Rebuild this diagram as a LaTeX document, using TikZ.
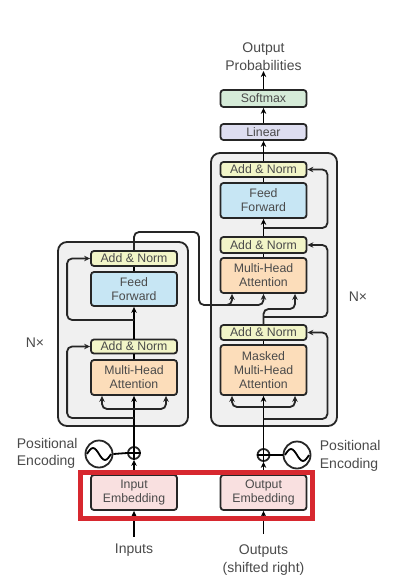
\documentclass[tikz,border=0pt]{standalone}
\usepackage{fontspec}
\setmainfont{Liberation Sans}
\usepackage{tikz}
\usetikzlibrary{arrows, arrows.meta}
\definecolor{normfill}{HTML}{F2F5C8}
\definecolor{fffill}{HTML}{C7E6F4}
\definecolor{attfill}{HTML}{FCDDBA}
\definecolor{embfill}{HTML}{F9E0E0}
\definecolor{smfill}{HTML}{D5EBD8}
\definecolor{linfill}{HTML}{DEDEF0}
\definecolor{stackfill}{HTML}{F0F0F0}
\definecolor{inktext}{HTML}{4A4A4A}
\definecolor{hlred}{HTML}{D7282F}

\begin{document}
\begin{tikzpicture}[x=1pt, y=-1pt, line width=1.8pt, >={Stealth[length=6pt,width=5.5pt]}]
\tikzstyle{block}=[draw=black!85, rounded corners=3pt, minimum width=86pt, inner sep=0pt, align=center, text=inktext, font=\fontsize{12.3}{14}\selectfont]
\tikzstyle{outtext}=[text=inktext, font=\fontsize{14}{17.5}\selectfont, align=center, inner sep=0pt]
\tikzstyle{stack}=[draw=black!85, fill=stackfill, rounded corners=9pt, inner sep=0pt]
\tikzstyle{addcirc}=[draw=black!85, fill=white, circle, minimum size=12pt, inner sep=0pt]
\tikzstyle{wave}=[draw=black!85, fill=white, circle, minimum size=27pt, inner sep=0pt]
\tikzstyle{wire}=[draw=black!85, rounded corners=5pt]
\useasboundingbox (0,0) rectangle (408,585);

% encoder and decoder stacks
\node[stack, minimum width=130pt, minimum height=184pt] (encstack) at (123,334) {};
\node[stack, minimum width=126pt, minimum height=273pt] (decstack) at (274,289.5) {};

% encoder blocks
\node[block, fill=normfill, minimum height=15pt] (encan2) at (134,258.5) {Add \& Norm};
\node[block, fill=fffill, minimum height=34pt] (encff) at (134,289) {Feed\\Forward};
\node[block, fill=normfill, minimum height=14pt] (encan1) at (134,346.5) {Add \& Norm};
\node[block, fill=attfill, minimum height=35pt] (encmha) at (134,377.5) {Multi-Head\\Attention};
\node[block, fill=embfill, minimum height=35pt] (inemb) at (134,492.5) {Input\\Embedding};

% decoder blocks
\node[block, fill=smfill, minimum height=17pt] (softmax) at (263.5,98.5) {Softmax};
\node[block, fill=linfill, minimum height=16pt] (linear) at (263.5,132) {Linear};
\node[block, fill=normfill, minimum height=15pt] (decan3) at (263.5,169.5) {Add \& Norm};
\node[block, fill=fffill, minimum height=35pt] (decff) at (263.5,200.5) {Feed\\Forward};
\node[block, fill=normfill, minimum height=16pt] (decan2) at (263.5,245) {Add \& Norm};
\node[block, fill=attfill, minimum height=35pt] (decmha) at (263.5,275.5) {Multi-Head\\Attention};
\node[block, fill=normfill, minimum height=15pt] (decan1) at (263.5,332.5) {Add \& Norm};
\node[block, fill=attfill, minimum height=50pt] (decmmha) at (263.5,370) {Masked\\Multi-Head\\Attention};
\node[block, fill=embfill, minimum height=35pt] (outemb) at (263.5,492.5) {Output\\Embedding};

% positional encoding
\node[addcirc] (encplus) at (134,453) {};
\node[wave] (encpe) at (99,454) {};
\node[addcirc] (decplus) at (263.5,455) {};
\node[wave] (decpe) at (297,455) {};
\draw[line width=1.3pt] (encplus.north) -- (encplus.south) (encplus.west) -- (encplus.east);
\draw[line width=1.3pt] (decplus.north) -- (decplus.south) (decplus.west) -- (decplus.east);
\draw (encpe.center) ++(-12,0) sin ++(6,-6) cos ++(6,6) sin ++(6,6) cos ++(6,-6);
\draw (decpe.center) ++(-12,0) sin ++(6,-6) cos ++(6,6) sin ++(6,6) cos ++(6,-6);

% texts
\node[outtext] (outprob) at (263.5,56.5) {Output\\Probabilities};
\node[outtext] (inputs) at (134,550) {Inputs};
\node[outtext] (outputs) at (263.5,560) {Outputs\\(shifted right)};
\node[outtext, align=left, anchor=west] (encpelab) at (16,453.5) {Positional\\Encoding};
\node[outtext, align=left, anchor=west] (decpelab) at (319,456) {Positional\\Encoding};
\node[outtext] (encn) at (35,343) {N×};
\node[outtext] (decn) at (358,297) {N×};

% branch points
\coordinate (encfork) at (134,409);
\coordinate (encres1) at (134,418);
\coordinate (encres2) at (134,320);
\coordinate (encturn) at (199,232);
\coordinate (crossin) at (199,305);
\coordinate (crossfork) at (220,305);
\coordinate (decfork) at (263.5,407);
\coordinate (decres1) at (263.5,419);
\coordinate (qturn) at (263.5,309);
\coordinate (decres2) at (263.5,317);
\coordinate (decres3) at (263.5,228);

% encoder wires
\draw[->, shorten <=6pt] (inputs.north) -- (inemb.south);
\draw[->] (inemb.north) -- (encplus.south);
\draw (encpe.east) -- (encplus.west);
\draw[->] (encplus.north) -- (encmha.south);
\draw[->, wire] (encfork) -| ([xshift=-32pt]encmha.south);
\draw[->, wire] (encfork) -| ([xshift=32pt]encmha.south);
\draw[->, wire] (encres1) -| ([xshift=-23pt]encan1.west) -- (encan1.west);
\draw (encmha.north) -- (encan1.south);
\draw[->] (encan1.north) -- (encff.south);
\draw[->, wire] (encres2) -| ([xshift=-23pt]encan2.west) -- (encan2.west);
\draw (encff.north) -- (encan2.south);
\draw[->, wire] (encan2.north) |- (encturn) -- (crossin) -| (decmha.south);
\draw[->, wire] (crossfork) -| ([xshift=-31.5pt]decmha.south);

% decoder wires
\draw[->, shorten <=10pt] (outputs.north) -- (outemb.south);
\draw[->] (outemb.north) -- (decplus.south);
\draw (decplus.east) -- (decpe.west);
\draw[->] (decplus.north) -- (decmmha.south);
\draw[->, wire] (decfork) -| ([xshift=-31.5pt]decmmha.south);
\draw[->, wire] (decfork) -| ([xshift=31.5pt]decmmha.south);
\draw[->, wire] (decres1) -| ([xshift=20pt]decan1.east) -- (decan1.east);
\draw (decmmha.north) -- (decan1.south);
\draw[->, wire] (decan1.north) -- (qturn) -| ([xshift=31.5pt]decmha.south);
\draw[->, wire] (decres2) -| ([xshift=20pt]decan2.east) -- (decan2.east);
\draw (decmha.north) -- (decan2.south);
\draw[->] (decan2.north) -- (decff.south);
\draw[->, wire] (decres3) -| ([xshift=20pt]decan3.east) -- (decan3.east);
\draw (decff.north) -- (decan3.south);
\draw[->] (decan3.north) -- (linear.south);
\draw[->] (linear.north) -- (softmax.south);
\draw[->] (softmax.north) -- (outprob.south);

% highlight
\draw[hlred, line width=5pt] (80.5,472.5) rectangle (312.5,518);

\end{tikzpicture}
\end{document}
